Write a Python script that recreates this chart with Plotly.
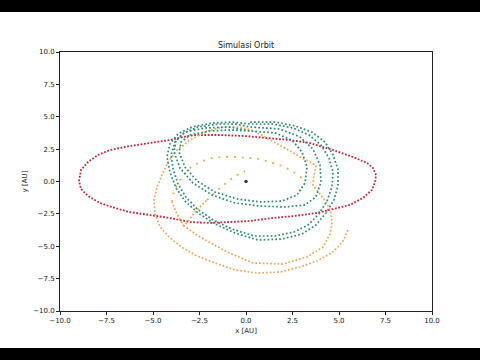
import plotly.graph_objects as go

# ---- data (AU) ----
red_x = [6.99, 6.83, 6.51, 5.75, 4.68, 3.44, 2.37, 1.18, -0.05, -1.40,
         -2.74, -3.39, -4.09, -5.16, -6.24, -7.31, -7.96, -8.49, -8.87, -8.98,
         -8.87, -8.49, -7.85, -7.04, -6.24, -5.16, -4.09, -3.01, -1.94, -0.86,
         0.22, 1.40, 2.63, 3.82, 4.78, 5.59, 6.29, 6.77, 6.94, 6.99]
red_y = [0.50, 1.04, 1.43, 1.89, 2.43, 2.97, 3.20, 3.36, 3.51, 3.59,
         3.59, 3.44, 3.20, 2.97, 2.74, 2.43, 2.05, 1.51, 0.89, 0.04,
         -0.58, -1.12, -1.66, -2.05, -2.36, -2.59, -2.82, -3.13, -3.20, -3.13,
         -3.05, -2.82, -2.66, -2.43, -2.12, -1.81, -1.27, -0.66, -0.04, 0.50]

green_x = [0.22, 1.56, 2.63, 3.55, 4.25, 4.68, 4.95, 4.95, 4.73, 4.30,
           3.76, 3.01, 1.94, 0.65, -0.59, -1.67, -2.58, -3.28, -3.76, -4.09,
           -4.25, -4.09, -3.66, -2.90, -1.83, -0.75,
           0.22, 1.45, 2.53, 3.39, 4.03, 4.46, 4.68, 4.62, 4.35, 3.92,
           3.33, 2.58, 1.56, 0.43, -0.75, -1.77, -2.63, -3.23, -3.66, -3.92,
           -4.03, -3.82, -3.33, -2.58, -1.51, -0.59,
           0.22, 1.83, 2.90, 3.60, 3.98, 4.03, 3.76, 3.17, 2.10, 0.75,
           -0.59, -1.83, -2.85, -3.55, -3.87, -3.76, -3.28, -2.20, -0.86,
           0.22, 1.56, 2.47, 3.01, 3.28, 3.17, 2.74, 1.94, 0.75, -0.48,
           -1.67, -2.63, -3.28, -3.60, -3.49, -3.01, -1.94, -0.86, 0.22]
green_y = [4.59, 4.59, 4.29, 3.82, 3.05, 2.05, 0.89, -0.27, -1.43, -2.43,
           -3.36, -4.05, -4.44, -4.52, -3.98, -3.28, -2.43, -1.51, -0.50, 0.73,
           1.89, 2.90, 3.67, 4.21, 4.52, 4.59,
           4.44, 4.44, 4.13, 3.59, 2.82, 1.81, 0.73, -0.42, -1.51, -2.51,
           -3.36, -3.90, -4.21, -4.21, -3.67, -2.97, -2.12, -1.20, -0.19, 0.97,
           2.05, 3.05, 3.75, 4.21, 4.44, 4.44,
           4.21, 4.05, 3.44, 2.51, 1.27, -0.04, -1.20, -1.81, -1.97, -1.89,
           -1.66, -1.04, -0.12, 1.04, 2.28, 3.20, 3.82, 4.13, 4.21,
           3.90, 3.75, 3.20, 2.28, 1.12, -0.12, -1.04, -1.51, -1.58, -1.35,
           -0.81, 0.04, 1.12, 2.28, 3.05, 3.59, 3.90, 3.98, 3.90]

orange_x = [5.48, 5.22, 4.68, 3.82, 2.90, 1.83, 0.59, -0.59, -1.67, -2.63,
            -3.39, -4.09, -4.62, -4.89, -4.95, -4.78, -4.52, -4.19, -3.71, -3.01,
            -2.20, -1.29, -0.43, 0.32, 1.02, 1.72, 2.37, 3.01, 3.55, 3.76,
            3.66, 3.60, 3.98, 4.35, 4.57, 4.62, 4.52, 4.14, 3.28, 1.99,
            0.38, -1.02, -2.47, -3.33, -2.74, -2.10,
            None, -3.33, -3.71, -3.98]
orange_y = [-3.75, -4.59, -5.44, -6.14, -6.60, -6.99, -7.07, -6.83, -6.29, -5.75,
            -5.14, -4.36, -3.51, -2.51, -1.43, -0.42, 0.50, 1.51, 2.43, 3.20,
            3.82, 4.21, 4.21, 3.98, 3.44, 2.90, 2.36, 1.81, 1.43, 1.20,
            0.50, -0.27, -0.97, -1.66, -2.43, -3.28, -4.05, -5.06, -5.83, -6.37,
            -6.29, -5.44, -4.29, -3.44, -2.36, -1.43,
            None, -3.44, -2.51, -1.58]

orange_fast_x = [-2.10, -1.40, -0.59, -0.05, None,
                 -3.98, -3.87, -3.49, -3.01, -2.47, -1.83, -1.29, -0.86, -0.43, 0.05,
                 0.48, 0.91, 1.40, 1.94, 2.37, 2.80, 3.17]
orange_fast_y = [-1.43, -0.50, 0.42, 0.81, None,
                 -1.58, -0.66, 0.27, 1.04, 1.51, 1.81, 1.89, 1.89, 1.89, 1.81,
                 1.81, 1.66, 1.43, 1.20, 0.89, 0.50, 0.12]

sun_x = [0.0]
sun_y = [0.0]

tick_vals = [-10.0, -7.5, -5.0, -2.5, 0.0, 2.5, 5.0, 7.5, 10.0]
tick_text = ["\u221210.0", "\u22127.5", "\u22125.0", "\u22122.5", "0.0", "2.5", "5.0", "7.5", "10.0"]

RED = "#c0283c"
GREEN = "#2a8a72"
ORANGE = "#f3a352"

fig = go.Figure()
fig.add_trace(go.Scatter(x=red_x, y=red_y, mode="lines",
                         line=dict(color=RED, width=1.8, dash="1.8px,1.6px")))
fig.add_trace(go.Scatter(x=orange_x, y=orange_y, mode="lines", connectgaps=False,
                         line=dict(color=ORANGE, width=1.7, dash="1.7px,2px")))
fig.add_trace(go.Scatter(x=orange_fast_x, y=orange_fast_y, mode="lines", connectgaps=False,
                         line=dict(color=ORANGE, width=1.8, dash="1.8px,6px")))
fig.add_trace(go.Scatter(x=green_x, y=green_y, mode="lines",
                         line=dict(color=GREEN, width=1.7, dash="1.7px,2.2px")))
fig.add_trace(go.Scatter(x=sun_x, y=sun_y, mode="markers",
                         marker=dict(color="#33306e", size=3.5)))

axis_common = dict(range=[-10, 10], tickvals=tick_vals, ticktext=tick_text,
                   showgrid=False, zeroline=False, showline=True, mirror=True,
                   linecolor="#222222", linewidth=1, ticks="outside", ticklen=3,
                   tickcolor="#222222", tickfont=dict(size=7, color="#222222"))

fig.update_layout(
    width=480, height=360,
    margin=dict(l=60, r=48, t=52, b=49),
    paper_bgcolor="white", plot_bgcolor="white",
    showlegend=False,
    font=dict(family="DejaVu Sans", color="#222222"),
    title=dict(text="Simulasi Orbit", x=246/480, xanchor="center",
               y=1 - 45/360, yanchor="middle", font=dict(size=8, color="#222222")),
    xaxis=dict(title=dict(text="x [AU]", font=dict(size=7), standoff=3), **axis_common),
    yaxis=dict(title=dict(text="y [AU]", font=dict(size=7), standoff=4), **axis_common),
    shapes=[
        dict(type="rect", xref="paper", yref="paper", x0=-0.2, x1=1.2,
             y0=(311 - 12) / 259, y1=1.3, fillcolor="black", line=dict(width=0), layer="above"),
        dict(type="rect", xref="paper", yref="paper", x0=-0.2, x1=1.2,
             y0=-0.3, y1=(311 - 348) / 259, fillcolor="black", line=dict(width=0), layer="above"),
    ],
)

fig.write_html("out.html")
